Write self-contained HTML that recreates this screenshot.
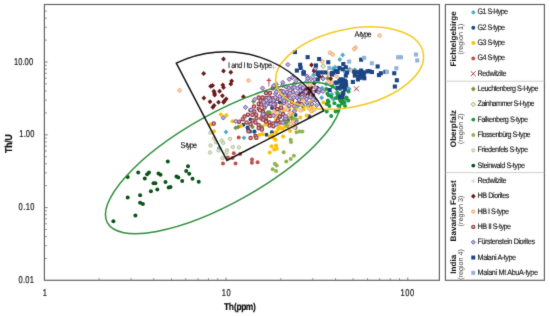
<!DOCTYPE html><html><head><meta charset="utf-8"><title>Th/U vs Th</title>
<style>html,body{margin:0;padding:0;background:#fff;overflow:hidden}svg{display:block}text{font-family:"Liberation Sans",Arial,sans-serif;text-rendering:geometricPrecision}</style></head><body>
<svg width="550" height="316" viewBox="0 0 550 316">
<defs><filter id="soft" x="0" y="0" width="550" height="316" filterUnits="userSpaceOnUse" color-interpolation-filters="sRGB"><feConvolveMatrix order="3" kernelMatrix="0.0113 0.0838 0.0113 0.0838 0.6193 0.0838 0.0113 0.0838 0.0113" divisor="1" edgeMode="duplicate" preserveAlpha="false"/></filter></defs>
<rect width="550" height="316" fill="#fff"/>
<g filter="url(#soft)">
<rect x="44.4" y="4.5" width="395.0" height="275.8" fill="none" stroke="#606060" stroke-width="1.15"/>
<line x1="99.1" y1="280.3" x2="99.1" y2="278.1" stroke="#606060" stroke-width="0.8" opacity="0.8"/><line x1="131.1" y1="280.3" x2="131.1" y2="278.1" stroke="#606060" stroke-width="0.8" opacity="0.8"/><line x1="153.8" y1="280.3" x2="153.8" y2="278.1" stroke="#606060" stroke-width="0.8" opacity="0.8"/><line x1="171.4" y1="280.3" x2="171.4" y2="278.1" stroke="#606060" stroke-width="0.8" opacity="0.8"/><line x1="185.8" y1="280.3" x2="185.8" y2="278.1" stroke="#606060" stroke-width="0.8" opacity="0.8"/><line x1="198.0" y1="280.3" x2="198.0" y2="278.1" stroke="#606060" stroke-width="0.8" opacity="0.8"/><line x1="208.5" y1="280.3" x2="208.5" y2="278.1" stroke="#606060" stroke-width="0.8" opacity="0.8"/><line x1="217.8" y1="280.3" x2="217.8" y2="278.1" stroke="#606060" stroke-width="0.8" opacity="0.8"/><line x1="226.1" y1="280.3" x2="226.1" y2="277.5" stroke="#606060" stroke-width="0.8" opacity="1"/><line x1="280.8" y1="280.3" x2="280.8" y2="278.1" stroke="#606060" stroke-width="0.8" opacity="0.8"/><line x1="312.8" y1="280.3" x2="312.8" y2="278.1" stroke="#606060" stroke-width="0.8" opacity="0.8"/><line x1="335.5" y1="280.3" x2="335.5" y2="278.1" stroke="#606060" stroke-width="0.8" opacity="0.8"/><line x1="353.1" y1="280.3" x2="353.1" y2="278.1" stroke="#606060" stroke-width="0.8" opacity="0.8"/><line x1="367.5" y1="280.3" x2="367.5" y2="278.1" stroke="#606060" stroke-width="0.8" opacity="0.8"/><line x1="379.7" y1="280.3" x2="379.7" y2="278.1" stroke="#606060" stroke-width="0.8" opacity="0.8"/><line x1="390.2" y1="280.3" x2="390.2" y2="278.1" stroke="#606060" stroke-width="0.8" opacity="0.8"/><line x1="399.5" y1="280.3" x2="399.5" y2="278.1" stroke="#606060" stroke-width="0.8" opacity="0.8"/><line x1="407.8" y1="280.3" x2="407.8" y2="277.5" stroke="#606060" stroke-width="0.8" opacity="1"/><line x1="44.4" y1="258.5" x2="47.0" y2="258.5" stroke="#606060" stroke-width="0.8" opacity="0.8"/><line x1="44.4" y1="245.7" x2="47.0" y2="245.7" stroke="#606060" stroke-width="0.8" opacity="0.8"/><line x1="44.4" y1="236.6" x2="47.0" y2="236.6" stroke="#606060" stroke-width="0.8" opacity="0.8"/><line x1="44.4" y1="229.5" x2="47.0" y2="229.5" stroke="#606060" stroke-width="0.8" opacity="0.8"/><line x1="44.4" y1="223.8" x2="47.0" y2="223.8" stroke="#606060" stroke-width="0.8" opacity="0.8"/><line x1="44.4" y1="218.9" x2="47.0" y2="218.9" stroke="#606060" stroke-width="0.8" opacity="0.8"/><line x1="44.4" y1="214.7" x2="47.0" y2="214.7" stroke="#606060" stroke-width="0.8" opacity="0.8"/><line x1="44.4" y1="210.9" x2="47.0" y2="210.9" stroke="#606060" stroke-width="0.8" opacity="0.8"/><line x1="44.4" y1="207.6" x2="47.699999999999996" y2="207.6" stroke="#606060" stroke-width="0.8" opacity="1"/><line x1="44.4" y1="185.7" x2="47.0" y2="185.7" stroke="#606060" stroke-width="0.8" opacity="0.8"/><line x1="44.4" y1="172.9" x2="47.0" y2="172.9" stroke="#606060" stroke-width="0.8" opacity="0.8"/><line x1="44.4" y1="163.8" x2="47.0" y2="163.8" stroke="#606060" stroke-width="0.8" opacity="0.8"/><line x1="44.4" y1="156.7" x2="47.0" y2="156.7" stroke="#606060" stroke-width="0.8" opacity="0.8"/><line x1="44.4" y1="151.0" x2="47.0" y2="151.0" stroke="#606060" stroke-width="0.8" opacity="0.8"/><line x1="44.4" y1="146.1" x2="47.0" y2="146.1" stroke="#606060" stroke-width="0.8" opacity="0.8"/><line x1="44.4" y1="141.9" x2="47.0" y2="141.9" stroke="#606060" stroke-width="0.8" opacity="0.8"/><line x1="44.4" y1="138.1" x2="47.0" y2="138.1" stroke="#606060" stroke-width="0.8" opacity="0.8"/><line x1="44.4" y1="134.8" x2="47.699999999999996" y2="134.8" stroke="#606060" stroke-width="0.8" opacity="1"/><line x1="44.4" y1="112.9" x2="47.0" y2="112.9" stroke="#606060" stroke-width="0.8" opacity="0.8"/><line x1="44.4" y1="100.1" x2="47.0" y2="100.1" stroke="#606060" stroke-width="0.8" opacity="0.8"/><line x1="44.4" y1="91.0" x2="47.0" y2="91.0" stroke="#606060" stroke-width="0.8" opacity="0.8"/><line x1="44.4" y1="83.9" x2="47.0" y2="83.9" stroke="#606060" stroke-width="0.8" opacity="0.8"/><line x1="44.4" y1="78.2" x2="47.0" y2="78.2" stroke="#606060" stroke-width="0.8" opacity="0.8"/><line x1="44.4" y1="73.3" x2="47.0" y2="73.3" stroke="#606060" stroke-width="0.8" opacity="0.8"/><line x1="44.4" y1="69.1" x2="47.0" y2="69.1" stroke="#606060" stroke-width="0.8" opacity="0.8"/><line x1="44.4" y1="65.3" x2="47.0" y2="65.3" stroke="#606060" stroke-width="0.8" opacity="0.8"/><line x1="44.4" y1="62.0" x2="47.699999999999996" y2="62.0" stroke="#606060" stroke-width="0.8" opacity="1"/><line x1="44.4" y1="40.1" x2="47.0" y2="40.1" stroke="#606060" stroke-width="0.8" opacity="0.8"/><line x1="44.4" y1="27.3" x2="47.0" y2="27.3" stroke="#606060" stroke-width="0.8" opacity="0.8"/><line x1="44.4" y1="18.2" x2="47.0" y2="18.2" stroke="#606060" stroke-width="0.8" opacity="0.8"/><line x1="44.4" y1="11.1" x2="47.0" y2="11.1" stroke="#606060" stroke-width="0.8" opacity="0.8"/>
<text transform="translate(13.90,64.50) scale(0.76,1)" font-size="9.9" letter-spacing="0.123" word-spacing="0.0" fill="#111" stroke="#111" stroke-width="0.2">10.00</text>
<text transform="translate(19.30,137.30) scale(0.76,1)" font-size="9.9" letter-spacing="0.201" word-spacing="0.0" fill="#111" stroke="#111" stroke-width="0.2">1.00</text>
<text transform="translate(18.60,210.10) scale(0.76,1)" font-size="9.9" letter-spacing="0.508" word-spacing="0.0" fill="#111" stroke="#111" stroke-width="0.2">0.10</text>
<text transform="translate(18.60,282.90) scale(0.76,1)" font-size="9.9" letter-spacing="0.288" word-spacing="0.0" fill="#111" stroke="#111" stroke-width="0.2">0.01</text>
<text transform="translate(42.80,295.60) scale(0.76,1)" font-size="9.9" letter-spacing="0.284" word-spacing="0.0" fill="#111" stroke="#111" stroke-width="0.2">1</text>
<text transform="translate(221.80,295.60) scale(0.76,1)" font-size="9.9" letter-spacing="0.568" word-spacing="0.0" fill="#111" stroke="#111" stroke-width="0.2">10</text>
<text transform="translate(400.60,295.60) scale(0.76,1)" font-size="9.9" letter-spacing="0.689" word-spacing="0.0" fill="#111" stroke="#111" stroke-width="0.2">100</text>
<text transform="translate(224.00,309.80) scale(0.84,1)" font-size="10" letter-spacing="-0.503" word-spacing="-1.5" font-weight="bold" fill="#111" stroke="#111" stroke-width="0.22">Th (ppm)</text>
<text transform="translate(12.10,152.90) rotate(-90) scale(0.86,1)" font-size="10" letter-spacing="-0.157" word-spacing="0.0" font-weight="bold" fill="#111" stroke="#111" stroke-width="0.22">Th/U</text>
<g>
<path d="M226.0 129.6L228.4 132.0L226.0 134.4L223.6 132.0Z" fill="#4bacc6"/><path d="M244.0 135.4L246.4 137.8L244.0 140.2L241.6 137.8Z" fill="#4bacc6"/><path d="M219.2 145.6L221.6 148.0L219.2 150.4L216.8 148.0Z" fill="#4bacc6"/><path d="M254.2 129.6L256.6 132.0L254.2 134.4L251.8 132.0Z" fill="#4bacc6"/><path d="M342.7 52.4L345.1 54.9L342.7 57.4L340.2 54.9Z" fill="#4bacc6"/><path d="M339.8 57.1L342.2 59.6L339.8 62.1L337.4 59.6Z" fill="#4bacc6"/><path d="M335.1 64.8L337.6 67.3L335.1 69.8L332.7 67.3Z" fill="#4bacc6"/><path d="M333.2 66.0L335.6 68.5L333.2 71.0L330.8 68.5Z" fill="#4bacc6"/><path d="M313.5 72.5L315.9 74.9L313.5 77.4L311.1 74.9Z" fill="#4bacc6"/><path d="M349.7 66.8L352.1 69.2L349.7 71.7L347.2 69.2Z" fill="#4bacc6"/><path d="M354.8 67.3L357.2 69.8L354.8 72.2L352.4 69.8Z" fill="#4bacc6"/><path d="M339.5 77.0L341.9 79.4L339.5 81.9L337.1 79.4Z" fill="#4bacc6"/><path d="M319.1 89.5L321.6 92.0L319.1 94.5L316.7 92.0Z" fill="#4bacc6"/><path d="M287.4 98.5L289.8 100.9L287.4 103.4L284.9 100.9Z" fill="#4bacc6"/><path d="M276.5 112.5L278.9 115.0L276.5 117.5L274.1 115.0Z" fill="#4bacc6"/><path d="M321.7 95.2L324.1 97.7L321.7 100.2L319.2 97.7Z" fill="#4bacc6"/><path d="M268.9 110.0L271.3 112.4L268.9 114.9L266.4 112.4Z" fill="#4bacc6"/><path d="M349.1 86.6L351.6 89.1L349.1 91.5L346.7 89.1Z" fill="#4bacc6"/><path d="M335.7 85.3L338.1 87.8L335.7 90.2L333.2 87.8Z" fill="#4bacc6"/><path d="M331.9 91.8L334.3 94.2L331.9 96.7L329.4 94.2Z" fill="#4bacc6"/><path d="M330.0 78.5L332.4 81.0L330.0 83.5L327.6 81.0Z" fill="#4bacc6"/><path d="M345.0 69.5L347.4 72.0L345.0 74.5L342.6 72.0Z" fill="#4bacc6"/><path d="M326.0 81.5L328.4 84.0L326.0 86.5L323.6 84.0Z" fill="#4bacc6"/><path d="M322.0 85.5L324.4 88.0L322.0 90.5L319.6 88.0Z" fill="#4bacc6"/><path d="M279.1 109.0L281.6 111.4L279.1 113.9L276.7 111.4Z" fill="#4bacc6"/><path d="M296.4 118.0L298.8 120.5L296.4 123.0L293.9 120.5Z" fill="#4bacc6"/><path d="M336.6 90.0L339.1 92.4L336.6 94.9L334.2 92.4Z" fill="#4bacc6"/><path d="M333.3 96.8L335.8 99.3L333.3 101.8L330.9 99.3Z" fill="#4bacc6"/><path d="M297.8 104.1L300.2 106.6L297.8 109.0L295.4 106.6Z" fill="#4bacc6"/>
<circle cx="250.4" cy="119.4" r="2.0" fill="#1b4a80"/><circle cx="271.9" cy="132.2" r="2.0" fill="#1b4a80"/><circle cx="266.5" cy="134.7" r="2.0" fill="#1b4a80"/><circle cx="250.0" cy="131.5" r="2.0" fill="#1b4a80"/><circle cx="266.5" cy="120.7" r="2.0" fill="#1b4a80"/><circle cx="309.2" cy="116.3" r="2.0" fill="#1b4a80"/><circle cx="288.2" cy="119.5" r="2.0" fill="#1b4a80"/><circle cx="247.5" cy="127.5" r="2.0" fill="#1b4a80"/><circle cx="243.3" cy="124.8" r="2.0" fill="#1b4a80"/><circle cx="279.7" cy="102.2" r="2.0" fill="#1b4a80"/><circle cx="281.6" cy="104.1" r="2.0" fill="#1b4a80"/><circle cx="262.5" cy="111.1" r="2.0" fill="#1b4a80"/><circle cx="295.6" cy="115.0" r="2.0" fill="#1b4a80"/><circle cx="278.0" cy="116.5" r="2.0" fill="#1b4a80"/><circle cx="303.0" cy="106.0" r="2.0" fill="#1b4a80"/><circle cx="284.0" cy="99.0" r="2.0" fill="#1b4a80"/><circle cx="272.0" cy="108.0" r="2.0" fill="#1b4a80"/><circle cx="248.2" cy="129.5" r="2.0" fill="#1b4a80"/><circle cx="254.5" cy="131.4" r="2.0" fill="#1b4a80"/><circle cx="280.4" cy="116.8" r="2.0" fill="#1b4a80"/><circle cx="276.4" cy="121.4" r="2.0" fill="#1b4a80"/><circle cx="295.5" cy="127.7" r="2.0" fill="#1b4a80"/><circle cx="288.7" cy="109.8" r="2.0" fill="#1b4a80"/>
<circle cx="214.0" cy="131.2" r="2.0" fill="#ffc000"/><circle cx="210.9" cy="124.5" r="2.0" fill="#ffc000"/><circle cx="232.5" cy="121.3" r="2.0" fill="#ffc000"/><circle cx="220.8" cy="114.5" r="2.0" fill="#ffc000"/><circle cx="226.4" cy="115.2" r="2.0" fill="#ffc000"/><circle cx="283.1" cy="136.6" r="2.0" fill="#ffc000"/><circle cx="275.5" cy="139.8" r="2.0" fill="#ffc000"/><circle cx="271.6" cy="146.2" r="2.0" fill="#ffc000"/><circle cx="276.1" cy="145.5" r="2.0" fill="#ffc000"/><circle cx="274.2" cy="149.4" r="2.0" fill="#ffc000"/><circle cx="276.7" cy="148.7" r="2.0" fill="#ffc000"/><circle cx="269.7" cy="152.5" r="2.0" fill="#ffc000"/><circle cx="290.1" cy="130.9" r="2.0" fill="#ffc000"/><circle cx="280.5" cy="127.7" r="2.0" fill="#ffc000"/><circle cx="284.4" cy="127.1" r="2.0" fill="#ffc000"/><circle cx="278.0" cy="129.6" r="2.0" fill="#ffc000"/><circle cx="276.1" cy="132.2" r="2.0" fill="#ffc000"/><circle cx="272.3" cy="134.7" r="2.0" fill="#ffc000"/><circle cx="269.7" cy="136.6" r="2.0" fill="#ffc000"/><circle cx="259.5" cy="134.7" r="2.0" fill="#ffc000"/><circle cx="262.7" cy="134.1" r="2.0" fill="#ffc000"/><circle cx="255.7" cy="137.9" r="2.0" fill="#ffc000"/><circle cx="300.3" cy="117.5" r="2.0" fill="#ffc000"/><circle cx="306.6" cy="115.6" r="2.0" fill="#ffc000"/><circle cx="290.7" cy="123.9" r="2.0" fill="#ffc000"/><circle cx="276.1" cy="119.5" r="2.0" fill="#ffc000"/><circle cx="265.3" cy="124.5" r="2.0" fill="#ffc000"/><circle cx="323.5" cy="102.5" r="2.0" fill="#ffc000"/><circle cx="297.1" cy="94.8" r="2.0" fill="#ffc000"/><circle cx="302.1" cy="98.4" r="2.0" fill="#ffc000"/><circle cx="241.0" cy="126.1" r="2.0" fill="#ffc000"/><circle cx="282.3" cy="108.5" r="2.0" fill="#ffc000"/><circle cx="283.5" cy="110.4" r="2.0" fill="#ffc000"/><circle cx="291.8" cy="103.9" r="2.0" fill="#ffc000"/><circle cx="310.9" cy="102.0" r="2.0" fill="#ffc000"/><circle cx="289.3" cy="107.1" r="2.0" fill="#ffc000"/><circle cx="276.0" cy="112.5" r="2.0" fill="#ffc000"/><circle cx="285.2" cy="116.0" r="2.0" fill="#ffc000"/><circle cx="293.0" cy="113.0" r="2.0" fill="#ffc000"/><circle cx="296.0" cy="109.5" r="2.0" fill="#ffc000"/><circle cx="287.3" cy="125.9" r="2.0" fill="#ffc000"/><circle cx="294.5" cy="125.9" r="2.0" fill="#ffc000"/><circle cx="273.6" cy="137.7" r="2.0" fill="#ffc000"/><circle cx="303.6" cy="109.5" r="2.0" fill="#ffc000"/><circle cx="311.8" cy="111.4" r="2.0" fill="#ffc000"/><circle cx="278.5" cy="126.8" r="2.0" fill="#ffc000"/><circle cx="282.3" cy="128.7" r="2.0" fill="#ffc000"/><circle cx="293.7" cy="107.1" r="2.0" fill="#ffc000"/><circle cx="290.5" cy="117.9" r="2.0" fill="#ffc000"/><circle cx="311.6" cy="107.0" r="2.0" fill="#ffc000"/>
<circle cx="223.0" cy="163.4" r="2.0" fill="#c0504d"/><circle cx="235.5" cy="163.6" r="2.0" fill="#c0504d"/><circle cx="238.7" cy="137.6" r="2.0" fill="#c0504d"/><circle cx="233.8" cy="153.3" r="2.0" fill="#c0504d"/><circle cx="240.2" cy="154.0" r="2.0" fill="#c0504d"/><circle cx="227.8" cy="157.5" r="2.0" fill="#c0504d"/><circle cx="232.5" cy="158.0" r="2.0" fill="#c0504d"/><circle cx="252.0" cy="159.5" r="2.0" fill="#c0504d"/><circle cx="251.9" cy="162.7" r="2.0" fill="#c0504d"/><circle cx="257.6" cy="162.3" r="2.0" fill="#c0504d"/>
<path d="M353.9 86.3L358.9 91.3M353.9 91.3L358.9 86.3" stroke="#b8323a" stroke-width="1.0" fill="none"/>
<path d="M235.7 125.5L238.1 127.9L235.7 130.3L233.2 127.9Z" fill="#77933c"/><path d="M238.2 124.5L240.6 127.0L238.2 129.4L235.8 127.0Z" fill="#77933c"/><path d="M253.5 99.0L255.9 101.5L253.5 104.0L251.1 101.5Z" fill="#77933c"/><path d="M252.5 124.6L254.9 127.1L252.5 129.5L250.1 127.1Z" fill="#77933c"/><path d="M287.5 119.0L289.9 121.4L287.5 123.9L285.1 121.4Z" fill="#77933c"/><path d="M292.0 115.0L294.4 117.5L292.0 120.0L289.6 117.5Z" fill="#77933c"/><path d="M327.5 75.8L329.9 78.3L327.5 80.8L325.1 78.3Z" fill="#77933c"/><path d="M267.7 110.0L270.1 112.4L267.7 114.9L265.2 112.4Z" fill="#77933c"/><path d="M290.0 113.1L292.4 115.6L290.0 118.0L287.6 115.6Z" fill="#77933c"/><path d="M287.4 115.6L289.8 118.1L287.4 120.5L284.9 118.1Z" fill="#77933c"/><path d="M269.6 110.0L272.1 112.4L269.6 114.9L267.2 112.4Z" fill="#77933c"/><path d="M284.0 117.5L286.4 120.0L284.0 122.5L281.6 120.0Z" fill="#77933c"/><path d="M262.0 124.5L264.4 127.0L262.0 129.4L259.6 127.0Z" fill="#77933c"/><path d="M285.5 120.8L287.9 123.2L285.5 125.7L283.1 123.2Z" fill="#77933c"/><path d="M292.7 117.0L295.1 119.5L292.7 122.0L290.2 119.5Z" fill="#77933c"/><path d="M265.1 111.6L267.6 114.1L265.1 116.5L262.7 114.1Z" fill="#77933c"/>
<path d="M323.2 63.9L325.5 66.2L323.2 68.5L320.9 66.2Z" fill="#eef3e0" stroke="#77933c" stroke-width="0.8"/>
<circle cx="283.7" cy="152.3" r="2.0" fill="#8fb54c"/><circle cx="293.9" cy="155.7" r="2.0" fill="#8fb54c"/><circle cx="290.7" cy="158.9" r="2.0" fill="#8fb54c"/><circle cx="286.3" cy="161.5" r="2.0" fill="#8fb54c"/><circle cx="274.8" cy="163.7" r="2.0" fill="#8fb54c"/><circle cx="276.7" cy="165.5" r="2.0" fill="#8fb54c"/><circle cx="272.7" cy="169.3" r="2.0" fill="#8fb54c"/><circle cx="276.1" cy="171.0" r="2.0" fill="#8fb54c"/><circle cx="296.5" cy="132.2" r="2.0" fill="#8fb54c"/><circle cx="299.6" cy="131.5" r="2.0" fill="#8fb54c"/><circle cx="302.4" cy="131.5" r="2.0" fill="#8fb54c"/><circle cx="290.7" cy="139.8" r="2.0" fill="#8fb54c"/><circle cx="291.0" cy="142.0" r="2.0" fill="#8fb54c"/><circle cx="296.5" cy="119.5" r="2.0" fill="#8fb54c"/><circle cx="287.4" cy="126.0" r="2.0" fill="#8fb54c"/><circle cx="287.8" cy="116.2" r="2.0" fill="#8fb54c"/><circle cx="290.5" cy="114.3" r="2.0" fill="#8fb54c"/><circle cx="294.2" cy="118.9" r="2.0" fill="#8fb54c"/>
<circle cx="210.3" cy="132.7" r="1.65" fill="#e2ead0" stroke="#a6b888" stroke-width="0.85"/><circle cx="214.0" cy="138.5" r="1.65" fill="#e2ead0" stroke="#a6b888" stroke-width="0.85"/><circle cx="216.0" cy="142.3" r="1.65" fill="#e2ead0" stroke="#a6b888" stroke-width="0.85"/><circle cx="210.5" cy="145.5" r="1.65" fill="#e2ead0" stroke="#a6b888" stroke-width="0.85"/><circle cx="210.0" cy="152.5" r="1.65" fill="#e2ead0" stroke="#a6b888" stroke-width="0.85"/><circle cx="218.5" cy="150.5" r="1.65" fill="#e2ead0" stroke="#a6b888" stroke-width="0.85"/><circle cx="221.7" cy="140.4" r="1.65" fill="#e2ead0" stroke="#a6b888" stroke-width="0.85"/><circle cx="223.3" cy="142.9" r="1.65" fill="#e2ead0" stroke="#a6b888" stroke-width="0.85"/><circle cx="230.0" cy="138.8" r="1.65" fill="#e2ead0" stroke="#a6b888" stroke-width="0.85"/><circle cx="232.8" cy="147.0" r="1.65" fill="#e2ead0" stroke="#a6b888" stroke-width="0.85"/><circle cx="238.9" cy="147.4" r="1.65" fill="#e2ead0" stroke="#a6b888" stroke-width="0.85"/><circle cx="227.0" cy="150.2" r="1.65" fill="#e2ead0" stroke="#a6b888" stroke-width="0.85"/><circle cx="226.6" cy="152.5" r="1.65" fill="#e2ead0" stroke="#a6b888" stroke-width="0.85"/><circle cx="222.4" cy="158.2" r="1.65" fill="#e2ead0" stroke="#a6b888" stroke-width="0.85"/>
<circle cx="167.8" cy="161.4" r="2.0" fill="#0c5218"/><circle cx="138.2" cy="172.6" r="2.0" fill="#0c5218"/><circle cx="149.0" cy="172.6" r="2.0" fill="#0c5218"/><circle cx="147.1" cy="174.3" r="2.0" fill="#0c5218"/><circle cx="158.5" cy="173.5" r="2.0" fill="#0c5218"/><circle cx="160.5" cy="174.7" r="2.0" fill="#0c5218"/><circle cx="127.7" cy="176.9" r="2.0" fill="#0c5218"/><circle cx="144.8" cy="178.5" r="2.0" fill="#0c5218"/><circle cx="165.5" cy="182.1" r="2.0" fill="#0c5218"/><circle cx="153.5" cy="183.3" r="2.0" fill="#0c5218"/><circle cx="155.4" cy="183.3" r="2.0" fill="#0c5218"/><circle cx="157.3" cy="189.6" r="2.0" fill="#0c5218"/><circle cx="150.9" cy="191.3" r="2.0" fill="#0c5218"/><circle cx="168.7" cy="187.5" r="2.0" fill="#0c5218"/><circle cx="140.1" cy="195.3" r="2.0" fill="#0c5218"/><circle cx="127.7" cy="197.4" r="2.0" fill="#0c5218"/><circle cx="140.1" cy="202.7" r="2.0" fill="#0c5218"/><circle cx="142.9" cy="204.0" r="2.0" fill="#0c5218"/><circle cx="135.4" cy="215.5" r="2.0" fill="#0c5218"/><circle cx="113.4" cy="221.2" r="2.0" fill="#0c5218"/><circle cx="170.5" cy="186.9" r="2.0" fill="#0c5218"/><circle cx="182.2" cy="180.9" r="2.0" fill="#0c5218"/><circle cx="198.7" cy="181.8" r="2.0" fill="#0c5218"/><circle cx="188.0" cy="166.3" r="2.0" fill="#0c5218"/><circle cx="186.2" cy="171.0" r="2.0" fill="#0c5218"/><circle cx="189.2" cy="173.8" r="2.0" fill="#0c5218"/><circle cx="192.5" cy="178.7" r="2.0" fill="#0c5218"/><circle cx="176.5" cy="176.4" r="2.0" fill="#0c5218"/><circle cx="178.3" cy="177.4" r="2.0" fill="#0c5218"/>
<path d="M271.2 67.3L275.6 67.3M273.4 65.1L273.4 69.5" stroke="#e8a4bc" stroke-width="0.7" fill="none"/>
<path d="M223.5 56.6L225.9 59.1L223.5 61.6L221.1 59.1Z" fill="#6a1b1b"/><path d="M223.5 68.5L225.9 70.9L223.5 73.4L221.1 70.9Z" fill="#6a1b1b"/><path d="M230.8 69.8L233.2 72.2L230.8 74.7L228.4 72.2Z" fill="#6a1b1b"/><path d="M203.7 71.0L206.1 73.5L203.7 76.0L201.2 73.5Z" fill="#6a1b1b"/><path d="M231.7 78.6L234.1 81.1L231.7 83.5L229.2 81.1Z" fill="#6a1b1b"/><path d="M230.8 81.5L233.2 84.0L230.8 86.5L228.4 84.0Z" fill="#6a1b1b"/><path d="M222.8 82.5L225.2 84.9L222.8 87.4L220.4 84.9Z" fill="#6a1b1b"/><path d="M223.5 85.0L225.9 87.5L223.5 90.0L221.1 87.5Z" fill="#6a1b1b"/><path d="M212.6 83.0L215.0 85.5L212.6 88.0L210.2 85.5Z" fill="#6a1b1b"/><path d="M210.7 83.8L213.1 86.2L210.7 88.7L208.2 86.2Z" fill="#6a1b1b"/><path d="M213.9 88.8L216.3 91.3L213.9 93.8L211.5 91.3Z" fill="#6a1b1b"/><path d="M219.6 88.8L222.0 91.3L219.6 93.8L217.2 91.3Z" fill="#6a1b1b"/><path d="M214.5 90.8L216.9 93.2L214.5 95.7L212.1 93.2Z" fill="#6a1b1b"/><path d="M203.9 95.6L206.3 98.1L203.9 100.5L201.5 98.1Z" fill="#6a1b1b"/><path d="M210.0 99.3L212.4 101.8L210.0 104.2L207.6 101.8Z" fill="#6a1b1b"/><path d="M214.7 92.5L217.1 94.9L214.7 97.4L212.2 94.9Z" fill="#6a1b1b"/><path d="M222.4 93.3L224.8 95.8L222.4 98.2L220.0 95.8Z" fill="#6a1b1b"/><path d="M218.5 99.8L220.9 102.2L218.5 104.7L216.1 102.2Z" fill="#6a1b1b"/><path d="M214.1 103.1L216.5 105.6L214.1 108.0L211.7 105.6Z" fill="#6a1b1b"/><path d="M212.8 104.8L215.2 107.3L212.8 109.8L210.4 107.3Z" fill="#6a1b1b"/><path d="M226.2 96.5L228.6 99.0L226.2 101.5L223.8 99.0Z" fill="#6a1b1b"/><path d="M224.3 98.5L226.8 100.9L224.3 103.4L221.9 100.9Z" fill="#6a1b1b"/><path d="M223.6 99.8L226.0 102.2L223.6 104.7L221.2 102.2Z" fill="#6a1b1b"/><path d="M243.4 94.2L245.8 96.7L243.4 99.2L241.0 96.7Z" fill="#6a1b1b"/><path d="M311.5 62.6L313.9 65.1L311.5 67.5L309.1 65.1Z" fill="#6a1b1b"/><path d="M314.7 67.3L317.1 69.8L314.7 72.2L312.2 69.8Z" fill="#6a1b1b"/><path d="M319.2 73.8L321.6 76.2L319.2 78.7L316.8 76.2Z" fill="#6a1b1b"/><path d="M322.4 75.0L324.8 77.5L322.4 80.0L319.9 77.5Z" fill="#6a1b1b"/><path d="M330.6 76.2L333.1 78.7L330.6 81.2L328.2 78.7Z" fill="#6a1b1b"/><path d="M314.1 80.8L316.6 83.2L314.1 85.7L311.7 83.2Z" fill="#6a1b1b"/><path d="M305.8 87.2L308.2 89.7L305.8 92.2L303.4 89.7Z" fill="#6a1b1b"/><path d="M308.5 85.8L310.9 88.3L308.5 90.8L306.1 88.3Z" fill="#6a1b1b"/><path d="M311.3 85.0L313.8 87.4L311.3 89.9L308.9 87.4Z" fill="#6a1b1b"/><path d="M317.7 85.5L320.1 87.9L317.7 90.4L315.2 87.9Z" fill="#6a1b1b"/><path d="M309.4 90.0L311.8 92.5L309.4 95.0L306.9 92.5Z" fill="#6a1b1b"/><path d="M292.0 87.8L294.4 90.2L292.0 92.7L289.6 90.2Z" fill="#6a1b1b"/><path d="M301.2 90.0L303.6 92.5L301.2 95.0L298.8 92.5Z" fill="#6a1b1b"/><path d="M314.0 68.5L316.4 70.9L314.0 73.4L311.6 70.9Z" fill="#6a1b1b"/><path d="M300.7 86.3L303.1 88.8L300.7 91.2L298.2 88.8Z" fill="#6a1b1b"/><path d="M304.5 89.0L306.9 91.4L304.5 93.9L302.1 91.4Z" fill="#6a1b1b"/><path d="M307.7 92.1L310.1 94.6L307.7 97.0L305.2 94.6Z" fill="#6a1b1b"/><path d="M303.3 94.0L305.8 96.5L303.3 99.0L300.9 96.5Z" fill="#6a1b1b"/><path d="M310.3 87.6L312.8 90.1L310.3 92.5L307.9 90.1Z" fill="#6a1b1b"/><path d="M299.5 92.1L301.9 94.6L299.5 97.0L297.1 94.6Z" fill="#6a1b1b"/><path d="M313.0 92.5L315.4 95.0L313.0 97.5L310.6 95.0Z" fill="#6a1b1b"/><path d="M316.0 88.5L318.4 91.0L316.0 93.5L313.6 91.0Z" fill="#6a1b1b"/>
<circle cx="179.5" cy="90.4" r="1.8" fill="#fbd0ae" stroke="#f0a870" stroke-width="0.9"/><circle cx="248.5" cy="80.5" r="1.8" fill="#fbd0ae" stroke="#f0a870" stroke-width="0.9"/><circle cx="379.6" cy="35.5" r="1.8" fill="#fbd0ae" stroke="#f0a870" stroke-width="0.9"/><circle cx="355.5" cy="47.6" r="1.8" fill="#fbd0ae" stroke="#f0a870" stroke-width="0.9"/><circle cx="354.2" cy="49.1" r="1.8" fill="#fbd0ae" stroke="#f0a870" stroke-width="0.9"/><circle cx="330.0" cy="52.7" r="1.8" fill="#fbd0ae" stroke="#f0a870" stroke-width="0.9"/><circle cx="332.7" cy="54.5" r="1.8" fill="#fbd0ae" stroke="#f0a870" stroke-width="0.9"/><circle cx="322.4" cy="61.5" r="1.8" fill="#fbd0ae" stroke="#f0a870" stroke-width="0.9"/><circle cx="336.4" cy="76.2" r="1.8" fill="#fbd0ae" stroke="#f0a870" stroke-width="0.9"/><circle cx="351.6" cy="70.5" r="1.8" fill="#fbd0ae" stroke="#f0a870" stroke-width="0.9"/><circle cx="328.7" cy="81.9" r="1.8" fill="#fbd0ae" stroke="#f0a870" stroke-width="0.9"/><circle cx="309.9" cy="85.1" r="1.8" fill="#fbd0ae" stroke="#f0a870" stroke-width="0.9"/><circle cx="292.9" cy="94.8" r="1.8" fill="#fbd0ae" stroke="#f0a870" stroke-width="0.9"/><circle cx="289.7" cy="89.7" r="1.8" fill="#fbd0ae" stroke="#f0a870" stroke-width="0.9"/><circle cx="272.7" cy="114.7" r="1.8" fill="#fbd0ae" stroke="#f0a870" stroke-width="0.9"/><circle cx="294.5" cy="127.7" r="1.8" fill="#fbd0ae" stroke="#f0a870" stroke-width="0.9"/><circle cx="290.7" cy="123.9" r="1.8" fill="#fbd0ae" stroke="#f0a870" stroke-width="0.9"/><circle cx="293.3" cy="122.0" r="1.8" fill="#fbd0ae" stroke="#f0a870" stroke-width="0.9"/><circle cx="286.7" cy="104.7" r="1.8" fill="#fbd0ae" stroke="#f0a870" stroke-width="0.9"/><circle cx="299.5" cy="101.5" r="1.8" fill="#fbd0ae" stroke="#f0a870" stroke-width="0.9"/><circle cx="304.5" cy="97.7" r="1.8" fill="#fbd0ae" stroke="#f0a870" stroke-width="0.9"/><circle cx="311.5" cy="111.1" r="1.8" fill="#fbd0ae" stroke="#f0a870" stroke-width="0.9"/><circle cx="314.1" cy="109.8" r="1.8" fill="#fbd0ae" stroke="#f0a870" stroke-width="0.9"/><circle cx="300.7" cy="110.5" r="1.8" fill="#fbd0ae" stroke="#f0a870" stroke-width="0.9"/><circle cx="280.9" cy="105.9" r="1.8" fill="#fbd0ae" stroke="#f0a870" stroke-width="0.9"/><circle cx="285.5" cy="109.5" r="1.8" fill="#fbd0ae" stroke="#f0a870" stroke-width="0.9"/><circle cx="290.9" cy="105.0" r="1.8" fill="#fbd0ae" stroke="#f0a870" stroke-width="0.9"/><circle cx="273.6" cy="112.3" r="1.8" fill="#fbd0ae" stroke="#f0a870" stroke-width="0.9"/><circle cx="295.5" cy="105.0" r="1.8" fill="#fbd0ae" stroke="#f0a870" stroke-width="0.9"/><circle cx="309.1" cy="108.6" r="1.8" fill="#fbd0ae" stroke="#f0a870" stroke-width="0.9"/><circle cx="278.2" cy="115.0" r="1.8" fill="#fbd0ae" stroke="#f0a870" stroke-width="0.9"/><circle cx="289.1" cy="115.0" r="1.8" fill="#fbd0ae" stroke="#f0a870" stroke-width="0.9"/><circle cx="328.3" cy="74.0" r="1.8" fill="#fbd0ae" stroke="#f0a870" stroke-width="0.9"/><circle cx="331.9" cy="82.8" r="1.8" fill="#fbd0ae" stroke="#f0a870" stroke-width="0.9"/><circle cx="277.2" cy="112.8" r="1.8" fill="#fbd0ae" stroke="#f0a870" stroke-width="0.9"/><circle cx="275.3" cy="116.0" r="1.8" fill="#fbd0ae" stroke="#f0a870" stroke-width="0.9"/><circle cx="287.4" cy="109.6" r="1.8" fill="#fbd0ae" stroke="#f0a870" stroke-width="0.9"/><circle cx="290.5" cy="112.8" r="1.8" fill="#fbd0ae" stroke="#f0a870" stroke-width="0.9"/><circle cx="284.8" cy="102.6" r="1.8" fill="#fbd0ae" stroke="#f0a870" stroke-width="0.9"/><circle cx="304.3" cy="101.5" r="1.8" fill="#fbd0ae" stroke="#f0a870" stroke-width="0.9"/><circle cx="289.6" cy="97.4" r="1.8" fill="#fbd0ae" stroke="#f0a870" stroke-width="0.9"/>
<circle cx="213.7" cy="123.6" r="1.7" fill="#e4a4a6" stroke="#8f3c44" stroke-width="1.15"/><circle cx="250.6" cy="138.0" r="1.7" fill="#e4a4a6" stroke="#8f3c44" stroke-width="1.15"/><circle cx="255.5" cy="136.0" r="1.7" fill="#e4a4a6" stroke="#8f3c44" stroke-width="1.15"/><circle cx="272.8" cy="88.3" r="1.7" fill="#e4a4a6" stroke="#8f3c44" stroke-width="1.15"/><circle cx="300.7" cy="104.1" r="1.7" fill="#e4a4a6" stroke="#8f3c44" stroke-width="1.15"/><circle cx="266.0" cy="93.0" r="1.7" fill="#e4a4a6" stroke="#8f3c44" stroke-width="1.15"/><circle cx="270.0" cy="93.0" r="1.7" fill="#e4a4a6" stroke="#8f3c44" stroke-width="1.15"/><circle cx="256.4" cy="137.7" r="1.7" fill="#e4a4a6" stroke="#8f3c44" stroke-width="1.15"/><circle cx="258.7" cy="97.5" r="1.7" fill="#e4a4a6" stroke="#8f3c44" stroke-width="1.15"/><circle cx="262.5" cy="97.5" r="1.7" fill="#e4a4a6" stroke="#8f3c44" stroke-width="1.15"/><circle cx="266.4" cy="97.8" r="1.7" fill="#e4a4a6" stroke="#8f3c44" stroke-width="1.15"/><circle cx="269.5" cy="97.5" r="1.7" fill="#e4a4a6" stroke="#8f3c44" stroke-width="1.15"/><circle cx="272.7" cy="98.2" r="1.7" fill="#e4a4a6" stroke="#8f3c44" stroke-width="1.15"/><circle cx="260.6" cy="100.7" r="1.7" fill="#e4a4a6" stroke="#8f3c44" stroke-width="1.15"/><circle cx="270.8" cy="100.7" r="1.7" fill="#e4a4a6" stroke="#8f3c44" stroke-width="1.15"/><circle cx="274.0" cy="100.0" r="1.7" fill="#e4a4a6" stroke="#8f3c44" stroke-width="1.15"/><circle cx="277.2" cy="98.8" r="1.7" fill="#e4a4a6" stroke="#8f3c44" stroke-width="1.15"/><circle cx="258.7" cy="103.9" r="1.7" fill="#e4a4a6" stroke="#8f3c44" stroke-width="1.15"/><circle cx="261.3" cy="104.5" r="1.7" fill="#e4a4a6" stroke="#8f3c44" stroke-width="1.15"/><circle cx="267.0" cy="103.3" r="1.7" fill="#e4a4a6" stroke="#8f3c44" stroke-width="1.15"/><circle cx="270.8" cy="103.9" r="1.7" fill="#e4a4a6" stroke="#8f3c44" stroke-width="1.15"/><circle cx="275.3" cy="103.9" r="1.7" fill="#e4a4a6" stroke="#8f3c44" stroke-width="1.15"/><circle cx="282.9" cy="98.8" r="1.7" fill="#e4a4a6" stroke="#8f3c44" stroke-width="1.15"/><circle cx="254.0" cy="106.5" r="1.7" fill="#e4a4a6" stroke="#8f3c44" stroke-width="1.15"/><circle cx="258.7" cy="108.4" r="1.7" fill="#e4a4a6" stroke="#8f3c44" stroke-width="1.15"/><circle cx="260.0" cy="110.3" r="1.7" fill="#e4a4a6" stroke="#8f3c44" stroke-width="1.15"/><circle cx="274.6" cy="107.1" r="1.7" fill="#e4a4a6" stroke="#8f3c44" stroke-width="1.15"/><circle cx="277.2" cy="109.0" r="1.7" fill="#e4a4a6" stroke="#8f3c44" stroke-width="1.15"/><circle cx="281.0" cy="107.7" r="1.7" fill="#e4a4a6" stroke="#8f3c44" stroke-width="1.15"/><circle cx="250.5" cy="110.3" r="1.7" fill="#e4a4a6" stroke="#8f3c44" stroke-width="1.15"/><circle cx="254.3" cy="111.5" r="1.7" fill="#e4a4a6" stroke="#8f3c44" stroke-width="1.15"/><circle cx="252.4" cy="114.7" r="1.7" fill="#e4a4a6" stroke="#8f3c44" stroke-width="1.15"/><circle cx="256.2" cy="114.7" r="1.7" fill="#e4a4a6" stroke="#8f3c44" stroke-width="1.15"/><circle cx="247.9" cy="114.7" r="1.7" fill="#e4a4a6" stroke="#8f3c44" stroke-width="1.15"/><circle cx="262.5" cy="115.4" r="1.7" fill="#e4a4a6" stroke="#8f3c44" stroke-width="1.15"/><circle cx="266.4" cy="116.6" r="1.7" fill="#e4a4a6" stroke="#8f3c44" stroke-width="1.15"/><circle cx="270.2" cy="116.0" r="1.7" fill="#e4a4a6" stroke="#8f3c44" stroke-width="1.15"/><circle cx="282.9" cy="114.1" r="1.7" fill="#e4a4a6" stroke="#8f3c44" stroke-width="1.15"/><circle cx="279.7" cy="116.6" r="1.7" fill="#e4a4a6" stroke="#8f3c44" stroke-width="1.15"/><circle cx="285.5" cy="118.5" r="1.7" fill="#e4a4a6" stroke="#8f3c44" stroke-width="1.15"/><circle cx="242.8" cy="119.2" r="1.7" fill="#e4a4a6" stroke="#8f3c44" stroke-width="1.15"/><circle cx="239.0" cy="121.7" r="1.7" fill="#e4a4a6" stroke="#8f3c44" stroke-width="1.15"/><circle cx="246.6" cy="122.4" r="1.7" fill="#e4a4a6" stroke="#8f3c44" stroke-width="1.15"/><circle cx="250.5" cy="124.3" r="1.7" fill="#e4a4a6" stroke="#8f3c44" stroke-width="1.15"/><circle cx="255.5" cy="122.4" r="1.7" fill="#e4a4a6" stroke="#8f3c44" stroke-width="1.15"/><circle cx="258.7" cy="124.9" r="1.7" fill="#e4a4a6" stroke="#8f3c44" stroke-width="1.15"/><circle cx="261.3" cy="118.5" r="1.7" fill="#e4a4a6" stroke="#8f3c44" stroke-width="1.15"/><circle cx="263.2" cy="119.8" r="1.7" fill="#e4a4a6" stroke="#8f3c44" stroke-width="1.15"/><circle cx="269.5" cy="122.4" r="1.7" fill="#e4a4a6" stroke="#8f3c44" stroke-width="1.15"/><circle cx="273.4" cy="123.6" r="1.7" fill="#e4a4a6" stroke="#8f3c44" stroke-width="1.15"/><circle cx="269.5" cy="125.5" r="1.7" fill="#e4a4a6" stroke="#8f3c44" stroke-width="1.15"/><circle cx="273.4" cy="126.2" r="1.7" fill="#e4a4a6" stroke="#8f3c44" stroke-width="1.15"/><circle cx="277.8" cy="120.5" r="1.7" fill="#e4a4a6" stroke="#8f3c44" stroke-width="1.15"/><circle cx="280.4" cy="122.4" r="1.7" fill="#e4a4a6" stroke="#8f3c44" stroke-width="1.15"/><circle cx="258.7" cy="128.1" r="1.7" fill="#e4a4a6" stroke="#8f3c44" stroke-width="1.15"/><circle cx="261.9" cy="129.4" r="1.7" fill="#e4a4a6" stroke="#8f3c44" stroke-width="1.15"/><circle cx="248.5" cy="131.3" r="1.7" fill="#e4a4a6" stroke="#8f3c44" stroke-width="1.15"/><circle cx="264.0" cy="101.0" r="1.7" fill="#e4a4a6" stroke="#8f3c44" stroke-width="1.15"/><circle cx="264.5" cy="107.5" r="1.7" fill="#e4a4a6" stroke="#8f3c44" stroke-width="1.15"/><circle cx="256.5" cy="118.3" r="1.7" fill="#e4a4a6" stroke="#8f3c44" stroke-width="1.15"/><circle cx="266.0" cy="121.5" r="1.7" fill="#e4a4a6" stroke="#8f3c44" stroke-width="1.15"/><circle cx="252.5" cy="120.5" r="1.7" fill="#e4a4a6" stroke="#8f3c44" stroke-width="1.15"/><circle cx="244.5" cy="116.5" r="1.7" fill="#e4a4a6" stroke="#8f3c44" stroke-width="1.15"/><circle cx="263.0" cy="112.0" r="1.7" fill="#e4a4a6" stroke="#8f3c44" stroke-width="1.15"/><circle cx="286.5" cy="95.5" r="1.7" fill="#e4a4a6" stroke="#8f3c44" stroke-width="1.15"/><circle cx="292.0" cy="101.5" r="1.7" fill="#e4a4a6" stroke="#8f3c44" stroke-width="1.15"/><circle cx="297.5" cy="103.5" r="1.7" fill="#e4a4a6" stroke="#8f3c44" stroke-width="1.15"/><circle cx="281.0" cy="91.0" r="1.7" fill="#e4a4a6" stroke="#8f3c44" stroke-width="1.15"/><circle cx="303.5" cy="94.5" r="1.7" fill="#e4a4a6" stroke="#8f3c44" stroke-width="1.15"/>
<path d="M223.3 115.6L225.5 117.8L223.3 120.0L221.1 117.8Z" fill="#bdb2dc" stroke="#705ca0" stroke-width="1.0"/><path d="M245.5 105.1L247.7 107.3L245.5 109.5L243.3 107.3Z" fill="#bdb2dc" stroke="#705ca0" stroke-width="1.0"/><path d="M251.0 107.6L253.2 109.8L251.0 112.0L248.8 109.8Z" fill="#bdb2dc" stroke="#705ca0" stroke-width="1.0"/><path d="M262.5 86.0L264.7 88.2L262.5 90.4L260.3 88.2Z" fill="#bdb2dc" stroke="#705ca0" stroke-width="1.0"/><path d="M235.7 119.1L237.9 121.3L235.7 123.5L233.5 121.3Z" fill="#bdb2dc" stroke="#705ca0" stroke-width="1.0"/><path d="M287.9 62.4L290.1 64.6L287.9 66.8L285.7 64.6Z" fill="#bdb2dc" stroke="#705ca0" stroke-width="1.0"/><path d="M292.4 75.2L294.6 77.4L292.4 79.6L290.2 77.4Z" fill="#bdb2dc" stroke="#705ca0" stroke-width="1.0"/><path d="M289.2 77.1L291.4 79.3L289.2 81.5L287.0 79.3Z" fill="#bdb2dc" stroke="#705ca0" stroke-width="1.0"/><path d="M296.2 78.3L298.4 80.5L296.2 82.7L294.0 80.5Z" fill="#bdb2dc" stroke="#705ca0" stroke-width="1.0"/><path d="M282.8 80.3L285.0 82.5L282.8 84.7L280.6 82.5Z" fill="#bdb2dc" stroke="#705ca0" stroke-width="1.0"/><path d="M273.9 83.4L276.1 85.6L273.9 87.8L271.7 85.6Z" fill="#bdb2dc" stroke="#705ca0" stroke-width="1.0"/><path d="M286.0 84.7L288.2 86.9L286.0 89.1L283.8 86.9Z" fill="#bdb2dc" stroke="#705ca0" stroke-width="1.0"/><path d="M292.4 85.3L294.6 87.5L292.4 89.7L290.2 87.5Z" fill="#bdb2dc" stroke="#705ca0" stroke-width="1.0"/><path d="M297.5 86.0L299.7 88.2L297.5 90.4L295.3 88.2Z" fill="#bdb2dc" stroke="#705ca0" stroke-width="1.0"/><path d="M303.6 69.6L305.8 71.8L303.6 74.0L301.4 71.8Z" fill="#bdb2dc" stroke="#705ca0" stroke-width="1.0"/><path d="M315.4 66.3L317.6 68.5L315.4 70.7L313.2 68.5Z" fill="#bdb2dc" stroke="#705ca0" stroke-width="1.0"/><path d="M307.1 74.0L309.3 76.2L307.1 78.4L304.9 76.2Z" fill="#bdb2dc" stroke="#705ca0" stroke-width="1.0"/><path d="M310.9 76.5L313.1 78.7L310.9 80.9L308.7 78.7Z" fill="#bdb2dc" stroke="#705ca0" stroke-width="1.0"/><path d="M314.7 77.2L316.9 79.4L314.7 81.6L312.5 79.4Z" fill="#bdb2dc" stroke="#705ca0" stroke-width="1.0"/><path d="M323.0 76.5L325.2 78.7L323.0 80.9L320.8 78.7Z" fill="#bdb2dc" stroke="#705ca0" stroke-width="1.0"/><path d="M275.5 91.7L277.7 93.9L275.5 96.1L273.3 93.9Z" fill="#bdb2dc" stroke="#705ca0" stroke-width="1.0"/><path d="M279.6 94.4L281.8 96.6L279.6 98.8L277.4 96.6Z" fill="#bdb2dc" stroke="#705ca0" stroke-width="1.0"/><path d="M283.8 89.4L286.0 91.6L283.8 93.8L281.6 91.6Z" fill="#bdb2dc" stroke="#705ca0" stroke-width="1.0"/><path d="M287.0 89.8L289.2 92.0L287.0 94.2L284.8 92.0Z" fill="#bdb2dc" stroke="#705ca0" stroke-width="1.0"/><path d="M294.3 85.2L296.5 87.4L294.3 89.6L292.1 87.4Z" fill="#bdb2dc" stroke="#705ca0" stroke-width="1.0"/><path d="M292.9 89.8L295.1 92.0L292.9 94.2L290.7 92.0Z" fill="#bdb2dc" stroke="#705ca0" stroke-width="1.0"/><path d="M296.6 91.2L298.8 93.4L296.6 95.6L294.4 93.4Z" fill="#bdb2dc" stroke="#705ca0" stroke-width="1.0"/><path d="M300.3 83.9L302.5 86.1L300.3 88.3L298.1 86.1Z" fill="#bdb2dc" stroke="#705ca0" stroke-width="1.0"/><path d="M303.0 85.7L305.2 87.9L303.0 90.1L300.8 87.9Z" fill="#bdb2dc" stroke="#705ca0" stroke-width="1.0"/><path d="M300.3 88.4L302.5 90.6L300.3 92.8L298.1 90.6Z" fill="#bdb2dc" stroke="#705ca0" stroke-width="1.0"/><path d="M307.6 76.5L309.8 78.7L307.6 80.9L305.4 78.7Z" fill="#bdb2dc" stroke="#705ca0" stroke-width="1.0"/><path d="M315.4 85.2L317.6 87.4L315.4 89.6L313.2 87.4Z" fill="#bdb2dc" stroke="#705ca0" stroke-width="1.0"/><path d="M313.1 90.3L315.3 92.5L313.1 94.7L310.9 92.5Z" fill="#bdb2dc" stroke="#705ca0" stroke-width="1.0"/><path d="M305.8 89.8L308.0 92.0L305.8 94.2L303.6 92.0Z" fill="#bdb2dc" stroke="#705ca0" stroke-width="1.0"/><path d="M302.1 93.0L304.3 95.2L302.1 97.4L299.9 95.2Z" fill="#bdb2dc" stroke="#705ca0" stroke-width="1.0"/><path d="M307.6 94.4L309.8 96.6L307.6 98.8L305.4 96.6Z" fill="#bdb2dc" stroke="#705ca0" stroke-width="1.0"/><path d="M318.6 89.8L320.8 92.0L318.6 94.2L316.4 92.0Z" fill="#bdb2dc" stroke="#705ca0" stroke-width="1.0"/><path d="M267.2 101.5L269.4 103.7L267.2 105.9L265.0 103.7Z" fill="#bdb2dc" stroke="#705ca0" stroke-width="1.0"/><path d="M296.5 120.4L298.7 122.6L296.5 124.8L294.3 122.6Z" fill="#bdb2dc" stroke="#705ca0" stroke-width="1.0"/><path d="M285.6 116.6L287.8 118.8L285.6 121.0L283.4 118.8Z" fill="#bdb2dc" stroke="#705ca0" stroke-width="1.0"/><path d="M273.4 98.1L275.6 100.3L273.4 102.5L271.2 100.3Z" fill="#bdb2dc" stroke="#705ca0" stroke-width="1.0"/><path d="M266.3 98.1L268.5 100.3L266.3 102.5L264.1 100.3Z" fill="#bdb2dc" stroke="#705ca0" stroke-width="1.0"/><path d="M270.8 101.9L273.0 104.1L270.8 106.3L268.6 104.1Z" fill="#bdb2dc" stroke="#705ca0" stroke-width="1.0"/><path d="M282.9 96.2L285.1 98.4L282.9 100.6L280.7 98.4Z" fill="#bdb2dc" stroke="#705ca0" stroke-width="1.0"/><path d="M289.9 91.1L292.1 93.3L289.9 95.5L287.7 93.3Z" fill="#bdb2dc" stroke="#705ca0" stroke-width="1.0"/><path d="M296.9 95.5L299.1 97.7L296.9 99.9L294.7 97.7Z" fill="#bdb2dc" stroke="#705ca0" stroke-width="1.0"/><path d="M293.7 95.5L295.9 97.7L293.7 99.9L291.5 97.7Z" fill="#bdb2dc" stroke="#705ca0" stroke-width="1.0"/><path d="M302.0 94.9L304.2 97.1L302.0 99.3L299.8 97.1Z" fill="#bdb2dc" stroke="#705ca0" stroke-width="1.0"/><path d="M306.5 96.8L308.7 99.0L306.5 101.2L304.3 99.0Z" fill="#bdb2dc" stroke="#705ca0" stroke-width="1.0"/><path d="M307.1 100.6L309.3 102.8L307.1 105.0L304.9 102.8Z" fill="#bdb2dc" stroke="#705ca0" stroke-width="1.0"/><path d="M310.3 94.9L312.5 97.1L310.3 99.3L308.1 97.1Z" fill="#bdb2dc" stroke="#705ca0" stroke-width="1.0"/><path d="M319.2 87.3L321.4 89.5L319.2 91.7L317.0 89.5Z" fill="#bdb2dc" stroke="#705ca0" stroke-width="1.0"/><path d="M323.0 89.2L325.2 91.4L323.0 93.6L320.8 91.4Z" fill="#bdb2dc" stroke="#705ca0" stroke-width="1.0"/><path d="M315.4 98.1L317.6 100.3L315.4 102.5L313.2 100.3Z" fill="#bdb2dc" stroke="#705ca0" stroke-width="1.0"/><path d="M316.7 103.2L318.9 105.4L316.7 107.6L314.5 105.4Z" fill="#bdb2dc" stroke="#705ca0" stroke-width="1.0"/><path d="M294.4 103.8L296.6 106.0L294.4 108.2L292.2 106.0Z" fill="#bdb2dc" stroke="#705ca0" stroke-width="1.0"/><path d="M294.4 108.9L296.6 111.1L294.4 113.3L292.2 111.1Z" fill="#bdb2dc" stroke="#705ca0" stroke-width="1.0"/><path d="M273.4 113.4L275.6 115.6L273.4 117.8L271.2 115.6Z" fill="#bdb2dc" stroke="#705ca0" stroke-width="1.0"/><path d="M266.3 103.2L268.5 105.4L266.3 107.6L264.1 105.4Z" fill="#bdb2dc" stroke="#705ca0" stroke-width="1.0"/><path d="M263.2 112.1L265.4 114.3L263.2 116.5L261.0 114.3Z" fill="#bdb2dc" stroke="#705ca0" stroke-width="1.0"/><path d="M285.5 114.0L287.7 116.2L285.5 118.4L283.3 116.2Z" fill="#bdb2dc" stroke="#705ca0" stroke-width="1.0"/><path d="M276.0 122.3L278.2 124.5L276.0 126.7L273.8 124.5Z" fill="#bdb2dc" stroke="#705ca0" stroke-width="1.0"/><path d="M282.9 120.4L285.1 122.6L282.9 124.8L280.7 122.6Z" fill="#bdb2dc" stroke="#705ca0" stroke-width="1.0"/><path d="M284.0 100.8L286.2 103.0L284.0 105.2L281.8 103.0Z" fill="#bdb2dc" stroke="#705ca0" stroke-width="1.0"/><path d="M288.0 96.8L290.2 99.0L288.0 101.2L285.8 99.0Z" fill="#bdb2dc" stroke="#705ca0" stroke-width="1.0"/><path d="M299.0 97.8L301.2 100.0L299.0 102.2L296.8 100.0Z" fill="#bdb2dc" stroke="#705ca0" stroke-width="1.0"/><path d="M312.0 101.8L314.2 104.0L312.0 106.2L309.8 104.0Z" fill="#bdb2dc" stroke="#705ca0" stroke-width="1.0"/><path d="M278.0 87.8L280.2 90.0L278.0 92.2L275.8 90.0Z" fill="#bdb2dc" stroke="#705ca0" stroke-width="1.0"/><path d="M285.0 92.8L287.2 95.0L285.0 97.2L282.8 95.0Z" fill="#bdb2dc" stroke="#705ca0" stroke-width="1.0"/><path d="M270.2 97.9L272.4 100.1L270.2 102.3L268.0 100.1Z" fill="#bdb2dc" stroke="#705ca0" stroke-width="1.0"/><path d="M275.3 95.3L277.5 97.5L275.3 99.7L273.1 97.5Z" fill="#bdb2dc" stroke="#705ca0" stroke-width="1.0"/><path d="M276.3 82.0L278.5 84.2L276.3 86.4L274.1 84.2Z" fill="#bdb2dc" stroke="#705ca0" stroke-width="1.0"/><path d="M282.7 83.2L284.9 85.4L282.7 87.6L280.5 85.4Z" fill="#bdb2dc" stroke="#705ca0" stroke-width="1.0"/><path d="M289.0 85.8L291.2 88.0L289.0 90.2L286.8 88.0Z" fill="#bdb2dc" stroke="#705ca0" stroke-width="1.0"/><path d="M294.0 82.0L296.2 84.2L294.0 86.4L291.8 84.2Z" fill="#bdb2dc" stroke="#705ca0" stroke-width="1.0"/><path d="M306.9 79.4L309.1 81.6L306.9 83.8L304.7 81.6Z" fill="#bdb2dc" stroke="#705ca0" stroke-width="1.0"/><path d="M276.3 89.6L278.5 91.8L276.3 94.0L274.1 91.8Z" fill="#bdb2dc" stroke="#705ca0" stroke-width="1.0"/><path d="M281.4 92.2L283.6 94.4L281.4 96.6L279.2 94.4Z" fill="#bdb2dc" stroke="#705ca0" stroke-width="1.0"/><path d="M284.0 98.5L286.2 100.7L284.0 102.9L281.8 100.7Z" fill="#bdb2dc" stroke="#705ca0" stroke-width="1.0"/><path d="M290.3 96.0L292.5 98.2L290.3 100.4L288.1 98.2Z" fill="#bdb2dc" stroke="#705ca0" stroke-width="1.0"/><path d="M313.2 97.2L315.4 99.4L313.2 101.6L311.0 99.4Z" fill="#bdb2dc" stroke="#705ca0" stroke-width="1.0"/><path d="M289.0 103.6L291.2 105.8L289.0 108.0L286.8 105.8Z" fill="#bdb2dc" stroke="#705ca0" stroke-width="1.0"/><path d="M301.8 102.3L304.0 104.5L301.8 106.7L299.6 104.5Z" fill="#bdb2dc" stroke="#705ca0" stroke-width="1.0"/><path d="M308.1 103.6L310.3 105.8L308.1 108.0L305.9 105.8Z" fill="#bdb2dc" stroke="#705ca0" stroke-width="1.0"/><path d="M254.7 97.2L256.9 99.4L254.7 101.6L252.5 99.4Z" fill="#bdb2dc" stroke="#705ca0" stroke-width="1.0"/><path d="M263.6 99.8L265.8 102.0L263.6 104.2L261.4 102.0Z" fill="#bdb2dc" stroke="#705ca0" stroke-width="1.0"/><path d="M268.7 96.0L270.9 98.2L268.7 100.4L266.5 98.2Z" fill="#bdb2dc" stroke="#705ca0" stroke-width="1.0"/><path d="M273.8 102.3L276.0 104.5L273.8 106.7L271.6 104.5Z" fill="#bdb2dc" stroke="#705ca0" stroke-width="1.0"/>
<path d="M268.1 78.2L269.7 78.2L269.2 86.4L268.6 86.4Z" fill="#c2414a"/><path d="M266.5 80.4L271.2 80.4" stroke="#c2414a" stroke-width="1.1" fill="none"/>
</g>
<ellipse cx="223.2" cy="158" rx="132.7" ry="44.6" transform="rotate(-29.3 223.2 158)" fill="none" stroke="#2f8f3e" stroke-width="1.5"/>
<g>
<circle cx="326.7" cy="111.5" r="2.0" fill="#1e9640"/><circle cx="331.2" cy="115.9" r="2.0" fill="#1e9640"/><circle cx="335.6" cy="111.5" r="2.0" fill="#1e9640"/><circle cx="338.2" cy="110.8" r="2.0" fill="#1e9640"/><circle cx="328.6" cy="101.9" r="2.0" fill="#1e9640"/><circle cx="334.4" cy="103.2" r="2.0" fill="#1e9640"/><circle cx="338.2" cy="105.7" r="2.0" fill="#1e9640"/><circle cx="340.7" cy="101.3" r="2.0" fill="#1e9640"/><circle cx="344.5" cy="102.5" r="2.0" fill="#1e9640"/><circle cx="348.4" cy="100.6" r="2.0" fill="#1e9640"/><circle cx="340.2" cy="89.1" r="2.0" fill="#1e9640"/><circle cx="348.5" cy="91.6" r="2.0" fill="#1e9640"/><circle cx="337.6" cy="94.2" r="2.0" fill="#1e9640"/><circle cx="331.3" cy="96.7" r="2.0" fill="#1e9640"/><circle cx="346.5" cy="97.4" r="2.0" fill="#1e9640"/><circle cx="342.7" cy="100.5" r="2.0" fill="#1e9640"/><circle cx="339.5" cy="99.3" r="2.0" fill="#1e9640"/><circle cx="332.5" cy="86.5" r="2.0" fill="#1e9640"/><circle cx="326.2" cy="88.9" r="2.0" fill="#1e9640"/><circle cx="328.7" cy="95.2" r="2.0" fill="#1e9640"/><circle cx="326.8" cy="104.0" r="2.0" fill="#1e9640"/><circle cx="329.4" cy="106.0" r="2.0" fill="#1e9640"/><circle cx="336.0" cy="98.0" r="2.0" fill="#1e9640"/><circle cx="343.0" cy="95.0" r="2.0" fill="#1e9640"/><circle cx="345.0" cy="106.0" r="2.0" fill="#1e9640"/><circle cx="327.4" cy="93.8" r="2.0" fill="#1e9640"/><circle cx="327.8" cy="100.6" r="2.0" fill="#1e9640"/><circle cx="342.1" cy="103.4" r="2.0" fill="#1e9640"/><circle cx="346.2" cy="98.8" r="2.0" fill="#1e9640"/><circle cx="337.9" cy="96.1" r="2.0" fill="#1e9640"/><circle cx="342.5" cy="98.3" r="2.0" fill="#1e9640"/>
<rect x="292.9" y="50.0" width="4.1" height="4.1" fill="#1b4583"/><rect x="305.6" y="55.1" width="4.1" height="4.1" fill="#1b4583"/><rect x="317.1" y="57.0" width="4.1" height="4.1" fill="#1b4583"/><rect x="326.2" y="60.2" width="4.1" height="4.1" fill="#1b4583"/><rect x="298.1" y="62.7" width="4.1" height="4.1" fill="#1b4583"/><rect x="298.6" y="65.9" width="4.1" height="4.1" fill="#1b4583"/><rect x="313.9" y="63.4" width="4.1" height="4.1" fill="#1b4583"/><rect x="294.8" y="68.5" width="4.1" height="4.1" fill="#1b4583"/><rect x="301.8" y="70.4" width="4.1" height="4.1" fill="#1b4583"/><rect x="315.8" y="70.4" width="4.1" height="4.1" fill="#1b4583"/><rect x="319.6" y="70.4" width="4.1" height="4.1" fill="#1b4583"/><rect x="323.4" y="70.4" width="4.1" height="4.1" fill="#1b4583"/><rect x="329.8" y="71.0" width="4.1" height="4.1" fill="#1b4583"/><rect x="333.6" y="69.0" width="4.1" height="4.1" fill="#1b4583"/><rect x="337.4" y="65.9" width="4.1" height="4.1" fill="#1b4583"/><rect x="341.3" y="62.0" width="4.1" height="4.1" fill="#1b4583"/><rect x="343.8" y="65.2" width="4.1" height="4.1" fill="#1b4583"/><rect x="340.6" y="67.2" width="4.1" height="4.1" fill="#1b4583"/><rect x="345.1" y="70.4" width="4.1" height="4.1" fill="#1b4583"/><rect x="343.8" y="73.5" width="4.1" height="4.1" fill="#1b4583"/><rect x="352.1" y="69.7" width="4.1" height="4.1" fill="#1b4583"/><rect x="355.3" y="70.4" width="4.1" height="4.1" fill="#1b4583"/><rect x="359.1" y="68.5" width="4.1" height="4.1" fill="#1b4583"/><rect x="362.3" y="70.4" width="4.1" height="4.1" fill="#1b4583"/><rect x="359.1" y="57.6" width="4.1" height="4.1" fill="#1b4583"/><rect x="352.8" y="73.5" width="4.1" height="4.1" fill="#1b4583"/><rect x="356.6" y="74.8" width="4.1" height="4.1" fill="#1b4583"/><rect x="360.4" y="74.2" width="4.1" height="4.1" fill="#1b4583"/><rect x="355.9" y="77.4" width="4.1" height="4.1" fill="#1b4583"/><rect x="350.8" y="79.9" width="4.1" height="4.1" fill="#1b4583"/><rect x="338.8" y="77.4" width="4.1" height="4.1" fill="#1b4583"/><rect x="341.3" y="79.2" width="4.1" height="4.1" fill="#1b4583"/><rect x="334.9" y="80.5" width="4.1" height="4.1" fill="#1b4583"/><rect x="315.8" y="77.4" width="4.1" height="4.1" fill="#1b4583"/><rect x="392.2" y="71.2" width="4.1" height="4.1" fill="#1b4583"/><rect x="394.8" y="78.2" width="4.1" height="4.1" fill="#1b4583"/><rect x="392.8" y="84.5" width="4.1" height="4.1" fill="#1b4583"/><rect x="376.9" y="73.0" width="4.1" height="4.1" fill="#1b4583"/><rect x="378.8" y="71.2" width="4.1" height="4.1" fill="#1b4583"/><rect x="362.3" y="76.2" width="4.1" height="4.1" fill="#1b4583"/><rect x="359.8" y="73.0" width="4.1" height="4.1" fill="#1b4583"/><rect x="353.4" y="71.8" width="4.1" height="4.1" fill="#1b4583"/><rect x="357.2" y="69.9" width="4.1" height="4.1" fill="#1b4583"/><rect x="367.4" y="69.2" width="4.1" height="4.1" fill="#1b4583"/><rect x="340.6" y="77.5" width="4.1" height="4.1" fill="#1b4583"/><rect x="343.8" y="80.0" width="4.1" height="4.1" fill="#1b4583"/><rect x="339.4" y="80.7" width="4.1" height="4.1" fill="#1b4583"/><rect x="333.6" y="80.7" width="4.1" height="4.1" fill="#1b4583"/><rect x="341.9" y="84.5" width="4.1" height="4.1" fill="#1b4583"/><rect x="338.8" y="85.2" width="4.1" height="4.1" fill="#1b4583"/><rect x="341.3" y="90.9" width="4.1" height="4.1" fill="#1b4583"/><rect x="335.6" y="69.9" width="4.1" height="4.1" fill="#1b4583"/><rect x="340.1" y="94.7" width="4.1" height="4.1" fill="#1b4583"/><rect x="375.6" y="64.4" width="4.1" height="4.1" fill="#1b4583"/><rect x="301.4" y="71.7" width="4.1" height="4.1" fill="#1b4583"/><rect x="315.6" y="72.0" width="4.1" height="4.1" fill="#1b4583"/><rect x="369.9" y="70.0" width="4.1" height="4.1" fill="#1b4583"/><rect x="331.2" y="70.7" width="4.1" height="4.1" fill="#1b4583"/><rect x="329.8" y="72.5" width="4.1" height="4.1" fill="#1b4583"/><rect x="359.6" y="70.7" width="4.1" height="4.1" fill="#1b4583"/><rect x="365.6" y="69.2" width="4.1" height="4.1" fill="#1b4583"/><rect x="358.3" y="73.0" width="4.1" height="4.1" fill="#1b4583"/><rect x="361.6" y="73.0" width="4.1" height="4.1" fill="#1b4583"/><rect x="358.3" y="75.7" width="4.1" height="4.1" fill="#1b4583"/><rect x="342.8" y="78.5" width="4.1" height="4.1" fill="#1b4583"/><rect x="343.6" y="82.0" width="4.1" height="4.1" fill="#1b4583"/><rect x="340.4" y="83.5" width="4.1" height="4.1" fill="#1b4583"/><rect x="337.8" y="78.9" width="4.1" height="4.1" fill="#1b4583"/><rect x="339.6" y="82.0" width="4.1" height="4.1" fill="#1b4583"/><rect x="344.1" y="83.5" width="4.1" height="4.1" fill="#1b4583"/><rect x="335.8" y="85.8" width="4.1" height="4.1" fill="#1b4583"/><rect x="342.8" y="87.2" width="4.1" height="4.1" fill="#1b4583"/><rect x="340.4" y="92.2" width="4.1" height="4.1" fill="#1b4583"/><rect x="338.1" y="95.0" width="4.1" height="4.1" fill="#1b4583"/><rect x="327.6" y="88.0" width="4.1" height="4.1" fill="#1b4583"/><rect x="383.4" y="69.8" width="4.1" height="4.1" fill="#1b4583"/>
<rect x="413.9" y="52.5" width="4.1" height="4.1" fill="#95b3d7"/><rect x="415.2" y="58.4" width="4.1" height="4.1" fill="#95b3d7"/><rect x="396.1" y="55.2" width="4.1" height="4.1" fill="#95b3d7"/><rect x="398.9" y="55.2" width="4.1" height="4.1" fill="#95b3d7"/><rect x="362.1" y="55.8" width="4.1" height="4.1" fill="#95b3d7"/><rect x="369.8" y="61.2" width="4.1" height="4.1" fill="#95b3d7"/><rect x="394.3" y="66.2" width="4.1" height="4.1" fill="#95b3d7"/><rect x="384.8" y="69.8" width="4.1" height="4.1" fill="#95b3d7"/><rect x="347.1" y="59.5" width="4.1" height="4.1" fill="#95b3d7"/><rect x="327.3" y="65.9" width="4.1" height="4.1" fill="#95b3d7"/>
</g>
<ellipse cx="349.6" cy="68.1" rx="75.2" ry="38.8" transform="rotate(-12.3 349.6 68.1)" fill="none" stroke="#f3ca24" stroke-width="1.6"/>
<path d="M226.9 160.4L176.3 63.1A111.8 111.8 0 0 1 323.8 110.6Z" fill="none" stroke="#111" stroke-width="1.5" stroke-linejoin="miter"/>
<text transform="translate(228,68.4) scale(0.87,1)" font-size="8.3" letter-spacing="-0.551" word-spacing="0.2" fill="#111" stroke="#111" stroke-width="0.12" >I and I to S-type</text>
<text transform="translate(354.4,37.2) scale(0.87,1)" font-size="8.3" letter-spacing="-0.889" word-spacing="0.9" fill="#111" stroke="#111" stroke-width="0.12" >A-type</text>
<text transform="translate(180.4,147.5) scale(0.87,1)" font-size="8.3" letter-spacing="-0.981" word-spacing="0.9" fill="#111" stroke="#111" stroke-width="0.12" >S-type</text>
<rect x="445.4" y="4.5" width="99.0" height="275.8" fill="#fff" stroke="#606060" stroke-width="1.15"/>
<line x1="445.4" y1="81.2" x2="544.4" y2="81.2" stroke="#c4c4c4" stroke-width="0.8"/>
<line x1="445.4" y1="172.6" x2="544.4" y2="172.6" stroke="#c4c4c4" stroke-width="0.8"/>
<g transform="translate(473.3,12.40) scale(0.97) translate(-473.3,-12.40)"><path d="M473.3 9.9L475.8 12.4L473.3 14.9L470.9 12.4Z" fill="#4bacc6"/></g>
<text transform="translate(477.6,14.4) scale(0.9,1)" font-size="8.0" letter-spacing="-0.732" word-spacing="0.2" fill="#111" stroke="#111" stroke-width="0.12" >G1 S-I-type</text>
<g transform="translate(473.3,27.72) scale(0.97) translate(-473.3,-27.72)"><circle cx="473.3" cy="27.7" r="2.0" fill="#1b4a80"/></g>
<text transform="translate(477.6,29.7) scale(0.9,1)" font-size="8.0" letter-spacing="-0.721" word-spacing="0.2" fill="#111" stroke="#111" stroke-width="0.12" >G2 S-type</text>
<g transform="translate(473.3,43.04) scale(0.97) translate(-473.3,-43.04)"><circle cx="473.3" cy="43.0" r="2.0" fill="#ffc000"/></g>
<text transform="translate(477.6,45.0) scale(0.9,1)" font-size="8.0" letter-spacing="-0.721" word-spacing="0.2" fill="#111" stroke="#111" stroke-width="0.12" >G3 S-type</text>
<g transform="translate(473.3,58.36) scale(0.97) translate(-473.3,-58.36)"><circle cx="473.3" cy="58.4" r="2.0" fill="#c0504d"/></g>
<text transform="translate(477.6,60.4) scale(0.9,1)" font-size="8.0" letter-spacing="-0.721" word-spacing="0.2" fill="#111" stroke="#111" stroke-width="0.12" >G4 S-type</text>
<g transform="translate(473.3,73.68) scale(0.97) translate(-473.3,-73.68)"><path d="M470.8 71.2L475.8 76.2M470.8 76.2L475.8 71.2" stroke="#b8323a" stroke-width="1.0" fill="none"/></g>
<text transform="translate(477.6,75.7) scale(0.9,1)" font-size="8.0" letter-spacing="-0.520" word-spacing="0.2" fill="#111" stroke="#111" stroke-width="0.12" >Redwitzite</text>
<g transform="translate(473.3,89.00) scale(0.97) translate(-473.3,-89.00)"><path d="M473.3 86.5L475.8 89.0L473.3 91.5L470.9 89.0Z" fill="#77933c"/></g>
<text transform="translate(477.6,91.0) scale(0.9,1)" font-size="8.0" letter-spacing="-0.579" word-spacing="0.2" fill="#111" stroke="#111" stroke-width="0.12" >Leuchtenberg S-I-type</text>
<g transform="translate(473.3,104.32) scale(0.97) translate(-473.3,-104.32)"><path d="M473.3 102.0L475.6 104.3L473.3 106.6L471.0 104.3Z" fill="#eef3e0" stroke="#77933c" stroke-width="0.8"/></g>
<text transform="translate(477.6,106.3) scale(0.9,1)" font-size="8.0" letter-spacing="-0.666" word-spacing="0.2" fill="#111" stroke="#111" stroke-width="0.12" >Zainhammer S-I-type</text>
<g transform="translate(473.3,119.64) scale(0.97) translate(-473.3,-119.64)"><circle cx="473.3" cy="119.6" r="2.0" fill="#1e9640"/></g>
<text transform="translate(477.6,121.6) scale(0.9,1)" font-size="8.0" letter-spacing="-0.598" word-spacing="0.2" fill="#111" stroke="#111" stroke-width="0.12" >Falkenberg S-type</text>
<g transform="translate(473.3,134.96) scale(0.97) translate(-473.3,-134.96)"><circle cx="473.3" cy="135.0" r="2.0" fill="#8fb54c"/></g>
<text transform="translate(477.6,137.0) scale(0.9,1)" font-size="8.0" letter-spacing="-0.628" word-spacing="0.2" fill="#111" stroke="#111" stroke-width="0.12" >Flossenbürg S-type</text>
<g transform="translate(473.3,150.28) scale(0.97) translate(-473.3,-150.28)"><circle cx="473.3" cy="150.3" r="1.65" fill="#e2ead0" stroke="#a6b888" stroke-width="0.85"/></g>
<text transform="translate(477.6,152.3) scale(0.9,1)" font-size="8.0" letter-spacing="-0.536" word-spacing="0.2" fill="#111" stroke="#111" stroke-width="0.12" >Friedenfels S-type</text>
<g transform="translate(473.3,165.60) scale(0.97) translate(-473.3,-165.60)"><circle cx="473.3" cy="165.6" r="2.0" fill="#0c5218"/></g>
<text transform="translate(477.6,167.6) scale(0.9,1)" font-size="8.0" letter-spacing="-0.504" word-spacing="0.2" fill="#111" stroke="#111" stroke-width="0.12" >Steinwald S-type</text>
<g transform="translate(473.3,180.92) scale(0.97) translate(-473.3,-180.92)"><path d="M471.1 180.9L475.5 180.9M473.3 178.7L473.3 183.1" stroke="#e8a4bc" stroke-width="0.7" fill="none"/></g>
<text transform="translate(477.6,182.9) scale(0.9,1)" font-size="8.0" letter-spacing="-0.520" word-spacing="0.2" fill="#111" stroke="#111" stroke-width="0.12" >Redwitzite</text>
<g transform="translate(473.3,196.24) scale(0.97) translate(-473.3,-196.24)"><path d="M473.3 193.8L475.8 196.2L473.3 198.7L470.9 196.2Z" fill="#6a1b1b"/></g>
<text transform="translate(477.6,198.2) scale(0.9,1)" font-size="8.0" letter-spacing="-0.532" word-spacing="0.2" fill="#111" stroke="#111" stroke-width="0.12" >HB Diorites</text>
<g transform="translate(473.3,211.56) scale(0.97) translate(-473.3,-211.56)"><circle cx="473.3" cy="211.6" r="1.8" fill="#fbd0ae" stroke="#f0a870" stroke-width="0.9"/></g>
<text transform="translate(477.6,213.6) scale(0.9,1)" font-size="8.0" letter-spacing="-0.641" word-spacing="0.2" fill="#111" stroke="#111" stroke-width="0.12" >HB I S-type</text>
<g transform="translate(473.3,226.88) scale(0.97) translate(-473.3,-226.88)"><circle cx="473.3" cy="226.9" r="1.7" fill="#e4a4a6" stroke="#8f3c44" stroke-width="1.15"/></g>
<text transform="translate(477.6,228.9) scale(0.9,1)" font-size="8.0" letter-spacing="-0.583" word-spacing="0.2" fill="#111" stroke="#111" stroke-width="0.12" >HB II S-type</text>
<g transform="translate(473.3,242.20) scale(0.97) translate(-473.3,-242.20)"><path d="M473.3 240.0L475.5 242.2L473.3 244.4L471.1 242.2Z" fill="#bdb2dc" stroke="#705ca0" stroke-width="1.0"/></g>
<text transform="translate(477.6,244.2) scale(0.9,1)" font-size="8.0" letter-spacing="-0.489" word-spacing="0.2" fill="#111" stroke="#111" stroke-width="0.12" >Fürstenstein Diorites</text>
<g transform="translate(473.3,257.52) scale(0.97) translate(-473.3,-257.52)"><rect x="471.2" y="255.5" width="4.1" height="4.1" fill="#1b4583"/></g>
<text transform="translate(477.6,259.5) scale(0.9,1)" font-size="8.0" letter-spacing="-0.500" word-spacing="0.2" fill="#111" stroke="#111" stroke-width="0.12" >Malani A-type</text>
<g transform="translate(473.3,272.84) scale(0.97) translate(-473.3,-272.84)"><rect x="471.2" y="270.8" width="4.1" height="4.1" fill="#95b3d7"/></g>
<text transform="translate(477.6,274.8) scale(0.9,1)" font-size="8.0" letter-spacing="-0.394" word-spacing="0.2" fill="#111" stroke="#111" stroke-width="0.12" >Malani Mt AbuA-type</text>
<text transform="translate(456,38.9) rotate(-90)" font-size="8.1" font-weight="bold" text-anchor="middle" fill="#111">Fichtelgebirge</text>
<text transform="translate(463.0,39.1) rotate(-90)" font-size="7.2" text-anchor="middle" fill="#3a3a3a">(region 1)</text>
<text transform="translate(456,128.5) rotate(-90)" font-size="8.1" font-weight="bold" text-anchor="middle" fill="#111">Oberpfalz</text>
<text transform="translate(463.0,128.7) rotate(-90)" font-size="7.2" text-anchor="middle" fill="#3a3a3a">(region 2)</text>
<text transform="translate(456,210.8) rotate(-90)" font-size="8.1" font-weight="bold" text-anchor="middle" fill="#111">Bavarian Forest</text>
<text transform="translate(463.0,211.0) rotate(-90)" font-size="7.2" text-anchor="middle" fill="#3a3a3a">(region 3)</text>
<text transform="translate(456,264.2) rotate(-90)" font-size="8.1" font-weight="bold" text-anchor="middle" fill="#111">India</text>
<text transform="translate(463.0,264.4) rotate(-90)" font-size="7.2" text-anchor="middle" fill="#3a3a3a">(region 4)</text>
</g></svg></body></html>
